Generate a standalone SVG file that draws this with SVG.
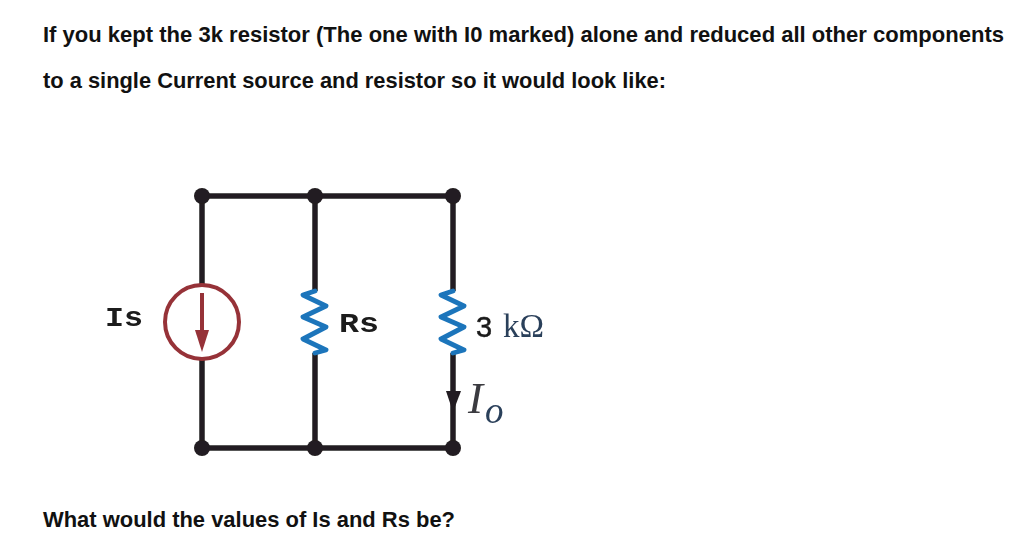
<svg xmlns="http://www.w3.org/2000/svg" width="1024" height="555" viewBox="0 0 1024 555">
<defs><filter id="soft" x="-5%" y="-5%" width="110%" height="110%"><feGaussianBlur stdDeviation="0.5"/></filter></defs>
<style>
.q{font-family:"Liberation Sans",Arial,sans-serif;font-size:22px;font-weight:700;fill:#111}
.m{font-family:"Liberation Mono","Courier New",monospace;font-size:27px;font-weight:700;fill:#1a1a1a}
.w{fill:none;stroke:#231f20;stroke-width:5.5}
.r{fill:none;stroke:#1b75bb;stroke-width:4.8;stroke-linejoin:round;stroke-linecap:round}
.d{fill:#231f20}
.s{font-family:"Liberation Serif","Times New Roman",serif}
</style>
<rect width="1024" height="555" fill="#fff"/>
<g id="question">
<text class="q" x="43" y="42" textLength="961" lengthAdjust="spacingAndGlyphs">If you kept the 3k resistor (The one with I0 marked) alone and reduced all other components</text>
<text class="q" x="43" y="88" textLength="623" lengthAdjust="spacingAndGlyphs">to a single Current source and resistor so it would look like:</text>
<text class="q" x="43" y="527" textLength="412" lengthAdjust="spacingAndGlyphs">What would the values of Is and Rs be?</text>
</g>
<g filter="url(#soft)">
<g id="connectors">
<path class="w" d="M202 196H453M202 448H453M202 196V286M202 360V448M315 196V291M315 353V448M453 196V291M453 353V448"/>
</g>
<g id="junctions">
<circle class="d" cx="202" cy="196" r="8"/><circle class="d" cx="315" cy="196" r="8"/><circle class="d" cx="453" cy="196" r="8"/>
<circle class="d" cx="202" cy="448" r="8"/><circle class="d" cx="315" cy="448" r="8"/><circle class="d" cx="453" cy="448" r="8"/>
</g>
<g id="source">
<circle cx="202" cy="322" r="37" fill="#fff" stroke="#963237" stroke-width="4"/>
<path d="M202 293V335" stroke="#963237" stroke-width="4" fill="none"/>
<path d="M195 330H209L202 352Z" fill="#963237"/>
<text class="m" x="105" y="326" textLength="38" lengthAdjust="spacingAndGlyphs">Is</text>
</g>
<g id="resistor-rs">
<path class="r" d="M315 291L303 295L326 306L303 317L326 327L303 339L326 350L315 353"/>
<text class="m" x="339" y="332" textLength="40" lengthAdjust="spacingAndGlyphs">Rs</text>
</g>
<g id="resistor-3k">
<path class="r" d="M453 291L441 295L464 306L441 317L464 327L441 339L464 350L453 353"/>
<text x="476" y="337" font-family="'Liberation Sans',Arial,sans-serif" font-size="29" fill="#1a1a1a" stroke="#1a1a1a" stroke-width="0.5">3</text>
<text class="s" x="503" y="337" font-size="33" fill="#2a3f5a">kΩ</text>
</g>
<g id="current-label">
<path class="d" d="M446 391H461L453 412Z"/>
<text class="s" x="468" y="413" font-style="italic" font-size="45" fill="#3a3a40">I</text>
<text class="s" x="485" y="423" font-style="italic" font-size="37" fill="#2a3f5a">o</text>
</g>
</g>
</svg>
